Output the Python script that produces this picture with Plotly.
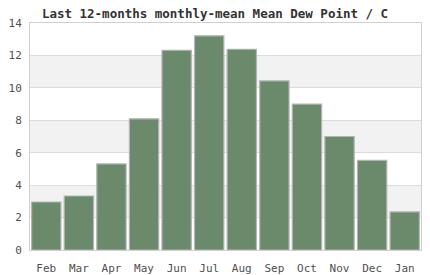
import plotly.graph_objects as go

months = ["Feb", "Mar", "Apr", "May", "Jun", "Jul", "Aug", "Sep", "Oct", "Nov", "Dec", "Jan"]
dew_point = [2.96, 3.33, 5.31, 8.09, 12.32, 13.21, 12.38, 10.43, 9.0, 7.0, 5.53, 2.35]
y_ticks = [0, 2, 4, 6, 8, 10, 12, 14]

fig = go.Figure()
fig.add_trace(go.Bar(
    x=months, y=dew_point,
    marker=dict(color="#6b8a6b", line=dict(color="#b4b4b4", width=1.2)),
))

shapes = []
for lo in [2, 6, 10]:
    shapes.append(dict(type="rect", xref="paper", yref="y", x0=0, x1=1, y0=lo, y1=lo + 2,
                       fillcolor="#f2f2f2", line=dict(width=0), layer="below"))

font = "DejaVu Sans Mono, monospace"
fig.update_layout(
    width=430, height=275,
    margin=dict(l=30, r=9, t=23, b=25),
    paper_bgcolor="white", plot_bgcolor="white",
    title=dict(text="<b>Last 12-months monthly-mean Mean Dew Point / C</b>",
               x=0.5, xanchor="center", y=0.952, yanchor="middle",
               font=dict(family=font, size=12.5, color="#333333")),
    bargap=0.1,
    showlegend=False,
    shapes=shapes,
    xaxis=dict(showgrid=False, ticks="", ticklabelstandoff=8, automargin=False,
               tickfont=dict(family=font, size=11, color="#505050"),
               showline=True, linecolor="#d0d0d0", linewidth=1, mirror=True, fixedrange=True),
    yaxis=dict(range=[0, 14], tickvals=y_ticks, showgrid=True, gridcolor="#dcdcdc",
               tickfont=dict(family=font, size=11, color="#505050"), ticks="",
               ticklabelstandoff=5, automargin=False,
               showline=True, linecolor="#d0d0d0", linewidth=1, mirror=True, zeroline=False),
)

fig.write_html("out.html")
